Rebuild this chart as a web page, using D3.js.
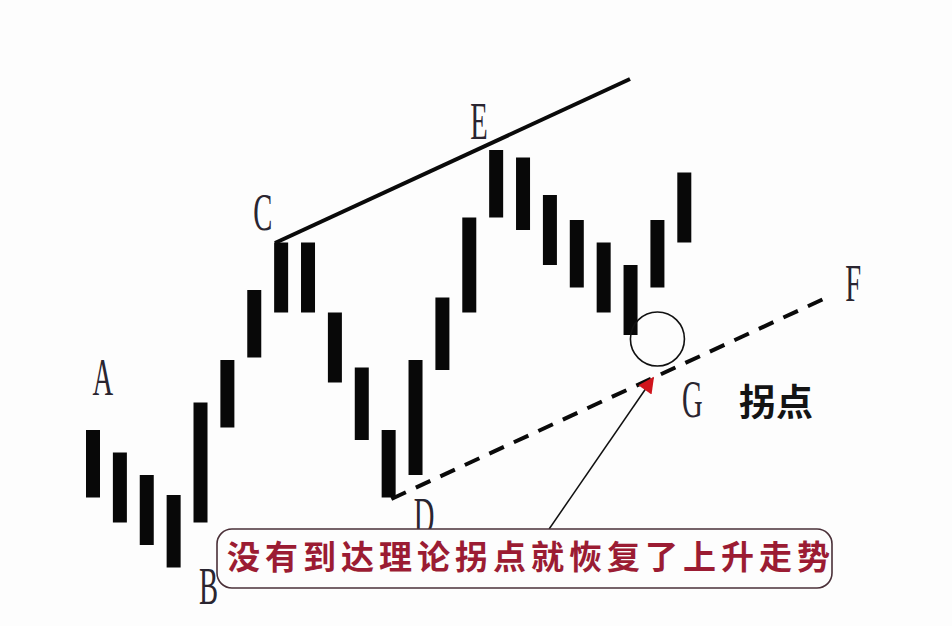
<!DOCTYPE html>
<html>
<head>
<meta charset="utf-8">
<script src="https://cdn.jsdelivr.net/npm/d3@7"></script>
<style>
  body { margin: 0; background: #fdfdfd; }
  svg { display: block; }
</style>
</head>
<body>
<div id="chart"></div>
<script>
// top / bottom of each bar (price units)
var barHigh = [32, 27.5, 23, 19, 37.5, 46, 60, 69.5, 69.5, 55.5, 44.5, 32, 46, 58.5, 74.5, 88, 86.5, 79, 74, 69.5, 65, 74, 83.5];
var barLow  = [18.5, 13.5, 9, 4.5, 13.5, 32.5, 46.5, 55.5, 55.5, 41.5, 30, 18.5, 23, 44, 55.5, 74.5, 72, 65, 60.5, 55.5, 51, 60.5, 69.5];

// trend lines, [bar index, price]
var resistLine = [[6.77, 69.4], [19.98, 102.2]];
var supportLine = [[11.1, 18.2], [27.5, 59]];

// point labels, [letter, bar index, price]
var pointNames = ["A", "B", "C", "D", "E", "F", "G"];
var pointIdx   = [0.37, 4.3, 6.32, 12.32, 14.36, 28.28, 22.3];
var pointVal   = [39, -2.8, 72, 11.2, 90.2, 57.8, 34.6];

// turning point circle and arrow
var circlePt = [21, 50.2];
var arrowPts = [[16.97, 12.2], [20.84, 42.4]];
var turnLabel = "拐点";
var noteText = "没有到达理论拐点就恢复了上升走势";

var width = 952, height = 626;

var x = d3.scaleLinear().domain([0, 22]).range([93, 684.3]);
var y = d3.scaleLinear().domain([0, 110]).range([590, 40]);

var svg = d3.select("#chart")
    .append("svg")
    .attr("width", width)
    .attr("height", height);

var defs = svg.append("defs");
defs.append("marker")
    .attr("id", "redHead")
    .attr("viewBox", "0 -5 10 10")
    .attr("refX", 9)
    .attr("refY", 0)
    .attr("markerUnits", "userSpaceOnUse")
    .attr("markerWidth", 22)
    .attr("markerHeight", 16)
    .attr("orient", "auto")
    .append("path")
    .attr("d", "M0,-5L10,0L0,5Z")
    .attr("fill", "#d0141c");

// bars
var barW = 14;
svg.selectAll("rect.bar")
    .data(barHigh)
    .enter()
    .append("rect")
    .attr("class", "bar")
    .attr("x", function(d, i) { return x(i) - barW / 2; })
    .attr("y", function(d) { return y(d); })
    .attr("width", barW)
    .attr("height", function(d, i) { return y(barLow[i]) - y(d); })
    .attr("fill", "#080808");

var line = d3.line()
    .x(function(d) { return x(d[0]); })
    .y(function(d) { return y(d[1]); });

svg.append("path")
    .attr("d", line(resistLine))
    .attr("stroke", "#0a0a0a")
    .attr("stroke-width", 4)
    .attr("fill", "none");

svg.append("path")
    .attr("d", line(supportLine))
    .attr("stroke", "#0a0a0a")
    .attr("stroke-width", 4)
    .attr("stroke-dasharray", "16,11")
    .attr("fill", "none");

// circle at the turning point
svg.append("circle")
    .attr("cx", x(circlePt[0]))
    .attr("cy", y(circlePt[1]))
    .attr("r", 27)
    .attr("fill", "none")
    .attr("stroke", "#111")
    .attr("stroke-width", 1.6);

// arrow
svg.append("path")
    .attr("d", line(arrowPts))
    .attr("stroke", "#111")
    .attr("stroke-width", 1.5)
    .attr("fill", "none")
    .attr("marker-end", "url(#redHead)");

// letters
svg.selectAll("text.pt")
    .data(pointNames)
    .enter()
    .append("text")
    .attr("class", "pt")
    .attr("transform", function(d, i) {
        return "translate(" + x(pointIdx[i]) + "," + y(pointVal[i]) + ") scale(0.55,1)";
    })
    .attr("text-anchor", "middle")
    .attr("font-family", "Liberation Serif, serif")
    .attr("font-size", 52)
    .attr("fill", "#2a2530")
    .text(function(d) { return d; });

svg.append("text")
    .attr("x", 776)
    .attr("y", 400)
    .attr("text-anchor", "middle")
    .attr("dominant-baseline", "central")
    .attr("font-family", "Noto Sans CJK SC")
    .attr("font-weight", 700)
    .attr("font-size", 37)
    .attr("fill", "#141414")
    .text(turnLabel);

// note box
var note = svg.append("g");
note.append("rect")
    .attr("x", 217)
    .attr("y", 529)
    .attr("width", 615)
    .attr("height", 59)
    .attr("rx", 15)
    .attr("fill", "#fdfdfd")
    .attr("stroke", "#4a3038")
    .attr("stroke-width", 1.6);
note.append("text")
    .attr("x", 531)
    .attr("y", 555)
    .attr("text-anchor", "middle")
    .attr("dominant-baseline", "central")
    .attr("font-family", "Noto Sans CJK SC")
    .attr("font-weight", 700)
    .attr("font-size", 33)
    .attr("letter-spacing", 5)
    .attr("fill", "#9b1c33")
    .text(noteText);
</script>
</body>
</html>
